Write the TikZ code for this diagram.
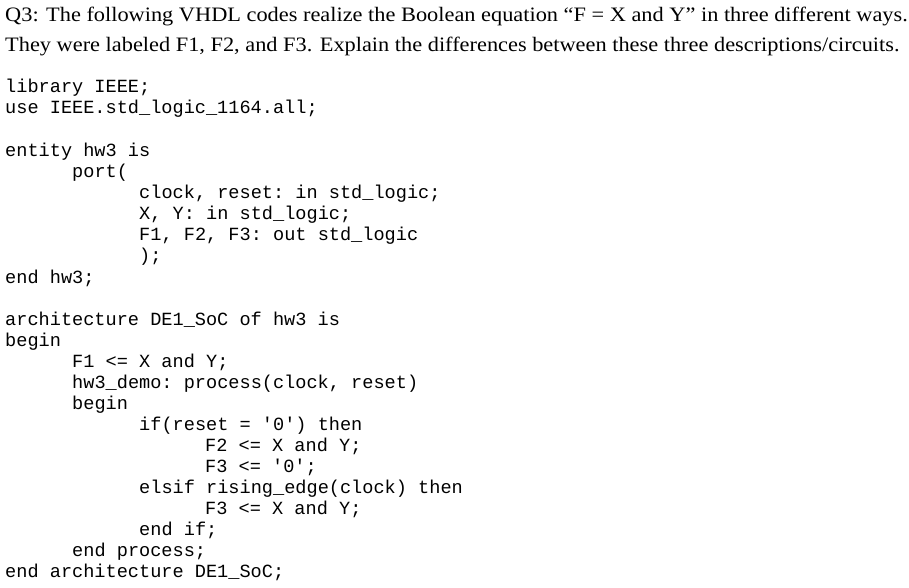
\documentclass[tikz,border=0pt]{standalone}
\usepackage{fontspec}
\setmainfont{Liberation Serif}
\setmonofont{Liberation Mono}
\begin{document}
\begin{tikzpicture}[x=1pt,y=1pt,
  head/.style={anchor=base west,inner sep=0pt,xscale=1.09,font=\fontsize{20.5}{24}\selectfont},
  code/.style={anchor=base west,inner sep=0pt,font=\ttfamily\fontsize{18.6}{21}\selectfont}]
\useasboundingbox[fill=white] (0,0) rectangle (909,587);
\node[head] (h1) at (5,587-22) {Q3: The following VHDL codes realize the Boolean equation “F = X and Y” in three different ways.};
\node[head] (h2) at (5,587-52) {They were labeled F1, F2, and F3. Explain the differences between these three descriptions/circuits.};
\node[code] (c1) at (5,587-93) {library IEEE;};
\node[code] (c2) at (5,587-114) {use IEEE.std\_logic\_1164.all;};
\node[code] (c3) at (5,587-157) {entity hw3 is};
\node[code] (c4) at (72,587-178) {port(};
\node[code] (c5) at (139,587-199) {clock, reset: in std\_logic;};
\node[code] (c6) at (139,587-220) {X, Y: in std\_logic;};
\node[code] (c7) at (139,587-241) {F1, F2, F3: out std\_logic};
\node[code] (c8) at (139,587-262) {);};
\node[code] (c9) at (5,587-283) {end hw3;};
\node[code] (c10) at (5,587-325) {architecture DE1\_SoC of hw3 is};
\node[code] (c11) at (5,587-346) {begin};
\node[code] (c12) at (72,587-367) {F1 <= X and Y;};
\node[code] (c13) at (72,587-388) {hw3\_demo: process(clock, reset)};
\node[code] (c14) at (72,587-409) {begin};
\node[code] (c15) at (139,587-430) {if(reset = '0') then};
\node[code] (c16) at (205,587-451) {F2 <= X and Y;};
\node[code] (c17) at (205,587-472) {F3 <= '0';};
\node[code] (c18) at (139,587-493) {elsif rising\_edge(clock) then};
\node[code] (c19) at (205,587-514) {F3 <= X and Y;};
\node[code] (c20) at (139,587-535) {end if;};
\node[code] (c21) at (72,587-556) {end process;};
\node[code] (c22) at (5,587-577) {end architecture DE1\_SoC;};
\end{tikzpicture}
\end{document}
